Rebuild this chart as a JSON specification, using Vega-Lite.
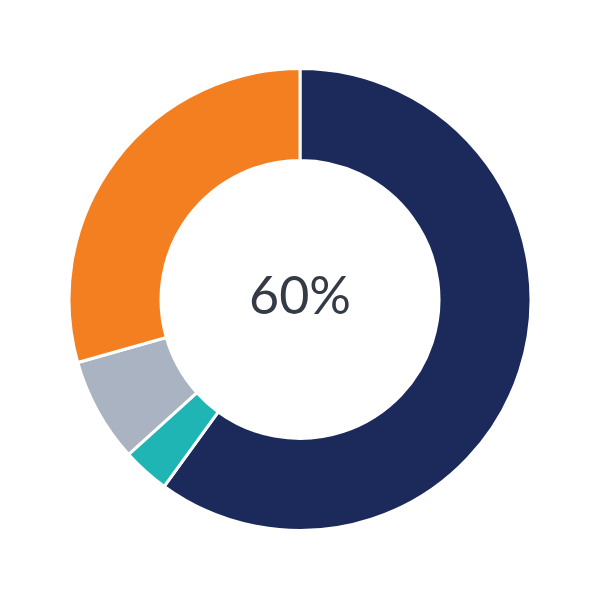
{
  "$schema": "https://vega.github.io/schema/vega-lite/v6.json",
  "description": "Donut chart with a 60% share in the middle",
  "width": 600,
  "height": 599,
  "autosize": {"type": "fit", "contains": "padding"},
  "padding": 0,
  "background": "white",
  "view": {"stroke": null},
  "layer": [
    {
      "data": {
        "values": [
          {"category": "A", "idx": 1, "value": 60},
          {"category": "B", "idx": 2, "value": 3.3},
          {"category": "C", "idx": 3, "value": 7.3},
          {"category": "D", "idx": 4, "value": 29.4}
        ]
      },
      "mark": {"type": "arc", "outerRadius": 231, "innerRadius": 139, "stroke": "white", "strokeWidth": 3},
      "encoding": {
        "theta": {"field": "value", "type": "quantitative", "stack": true},
        "order": {"field": "idx", "type": "quantitative"},
        "color": {
          "field": "category",
          "type": "nominal",
          "scale": {"domain": ["A", "B", "C", "D"], "range": ["#1b2a5b", "#1fb5b5", "#a9b3c1", "#f47f20"]},
          "legend": null
        }
      }
    },
    {
      "data": {"values": [{"label": "60%"}]},
      "mark": {"type": "text", "font": "Lato", "fontSize": 52, "fontWeight": 400, "color": "#353b46", "baseline": "middle", "align": "center", "dy": -2},
      "encoding": {
        "text": {"field": "label", "type": "nominal"}
      }
    }
  ]
}
